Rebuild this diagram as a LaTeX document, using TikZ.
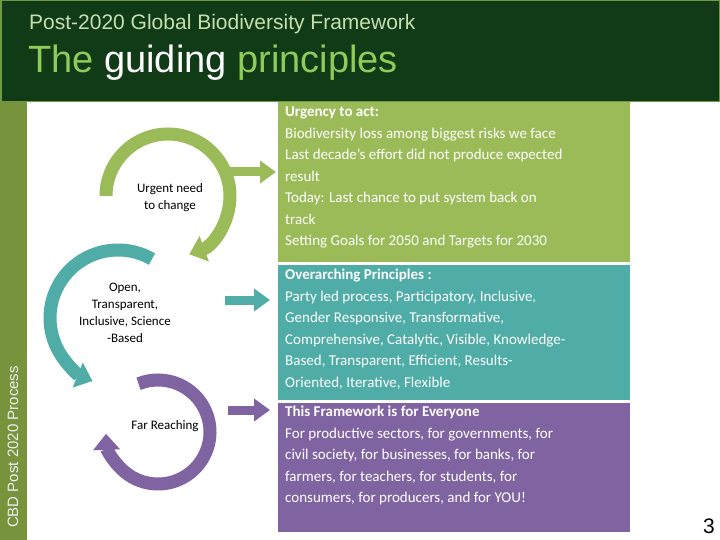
\documentclass[tikz,border=0pt]{standalone}
\usepackage{fontspec}
\setmainfont{Carlito}
\newfontfamily\arial{Liberation Sans}
\usetikzlibrary{arrows.meta,calc}
\definecolor{hdr}{HTML}{113A17}
\definecolor{hdrline}{HTML}{6E9A45}
\definecolor{subt}{HTML}{C4DFB0}
\definecolor{titg}{HTML}{8FCB5A}
\definecolor{bar}{HTML}{77933C}
\definecolor{gbox}{HTML}{9BBB59}
\definecolor{tbox}{HTML}{4FACA6}
\definecolor{pbox}{HTML}{8064A2}
\begin{document}
\begin{tikzpicture}[x=1pt,y=-1pt,
  boxtxt/.style={anchor=north west,text=white,align=left,inner sep=0pt,font=\fontsize{15}{21.5}\selectfont},
  ctxt/.style={align=center,font=\fontsize{13}{17}\selectfont,inner sep=0pt},
  ring/.style={line width=13pt,-{Triangle[length=16pt,width=26pt]}},
  sarrow/.style={line width=9pt,-{Triangle[length=16pt,width=22pt]}}]
\useasboundingbox (0,0) rectangle (720,540);
\fill[white] (0,0) rectangle (720,540);
\fill[hdr] (0,0) rectangle (720,102);
\draw[hdrline,line width=1.5pt] (0.75,0.75) rectangle (719.25,101.5);
\fill[bar] (0,102) rectangle (27,540);
\node[anchor=west,text=subt,font=\arial\fontsize{21}{24}\selectfont,inner sep=0pt] (sub) at (29,24) {Post-2020 Global Biodiversity Framework};
\node[anchor=west,font=\arial\fontsize{38}{42}\selectfont,inner sep=0pt] (tit) at (28,63) {\textcolor{titg}{The} \textcolor{white}{guiding} \textcolor{titg}{principles}};
\node[rotate=90,text=white!88!gray,font=\arial\fontsize{15}{18}\selectfont,inner sep=0pt] (side) at (13,447) {CBD Post 2020 Process};
% boxes
\fill[gbox] (278,102) rectangle (630,262);
\fill[tbox] (278,265) rectangle (630,400);
\fill[pbox] (278,403) rectangle (630,532);
\node[boxtxt] (t1) at (285,107) {\textbf{Urgency to act:}\\Biodiversity loss among biggest risks we face\\Last decade’s effort did not produce expected\\result\\Today: Last chance to put system back on\\track\\Setting Goals for 2050 and Targets for 2030};
\node[boxtxt] (t2) at (285,269) {\textbf{Overarching Principles :}\\Party led process, Participatory, Inclusive,\\Gender Responsive, Transformative,\\Comprehensive, Catalytic, Visible, Knowledge-\\Based, Transparent, Efficient, Results-\\Oriented, Iterative, Flexible};
\node[boxtxt] (t3) at (285,406) {\textbf{This Framework is for Everyone}\\For productive sectors, for governments, for\\civil society, for businesses, for banks, for\\farmers, for teachers, for students, for\\consumers, for producers, and for YOU!};
% rings
\coordinate (gc) at (168,196);
\coordinate (tc) at (118,318);
\coordinate (pc) at (158,432);
\draw[ring,gbox] ($(gc)+(180:62)$) arc[start angle=180,end angle=430,radius=62];
\draw[ring,tbox] ($(tc)+(300:68)$) arc[start angle=300,end angle=112,radius=68];
\draw[ring,pbox] ($(pc)+(248:52)$) arc[start angle=248,end angle=538,radius=52];
\node[ctxt] (l1) at (170,198) {Urgent need\\to change};
\node[ctxt] (l2) at (125,313) {Open,\\Transparent,\\Inclusive, Science\\-Based};
\node[ctxt] (l3) at (165,426) {Far Reaching};
% straight arrows
\coordinate (a1) at (227,172); \coordinate (b1) at (276,172);
\coordinate (a2) at (225,300); \coordinate (b2) at (270,300);
\coordinate (a3) at (228,410); \coordinate (b3) at (270,410);
\draw[sarrow,gbox] (a1) -- (b1);
\draw[sarrow,tbox] (a2) -- (b2);
\draw[sarrow,pbox] (a3) -- (b3);
\node[font=\arial\fontsize{21}{24}\selectfont,inner sep=0pt] (pg) at (709,526) {3};
\end{tikzpicture}
\end{document}
